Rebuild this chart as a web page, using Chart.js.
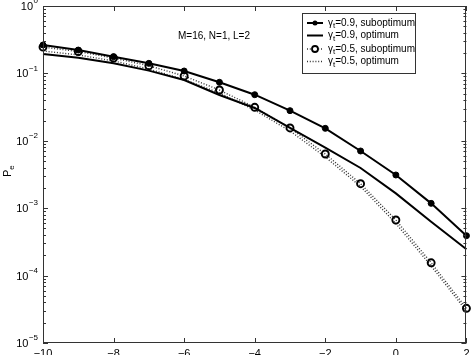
<!DOCTYPE html>
<html>
<head>
<meta charset="utf-8">
<script src="https://cdn.jsdelivr.net/npm/chart.js@4.4.1/dist/chart.umd.min.js"></script>
<style>
html,body{margin:0;padding:0;background:#fff;}
canvas{display:block;}
</style>
</head>
<body>
<canvas id="c" width="474" height="355"></canvas>
<script>
// ---- data ----
const snr = [-10, -9, -8, -7, -6, -5, -4, -3, -2, -1, 0, 1, 2];
const subopt09 = [0.264, 0.222, 0.177, 0.141, 0.1085, 0.0738, 0.0483, 0.0280, 0.0153, 0.00706, 0.00311, 0.00118, 0.000391];
const opt09    = [0.194, 0.171, 0.141, 0.110, 0.0798, 0.0478, 0.0307, 0.0155, 0.00795, 0.00395, 0.00166, 0.000630, 0.000246];
const subopt05 = [0.246, 0.211, 0.169, 0.130, 0.0915, 0.0567, 0.0314, 0.0155, 0.00637, 0.00231, 0.000668, 0.000155, 0.0000327];
const opt05    = [0.215, 0.188, 0.153, 0.116, 0.0812, 0.0512, 0.0286, 0.0140, 0.00575, 0.00210, 0.000593, 0.000139, 0.0000298];
const seriesLabels = ['γ_t=0.9, suboptimum', 'γ_t=0.9, optimum', 'γ_t=0.5, suboptimum', 'γ_t=0.5, optimum'];
const xTickValues = [-10, -8, -6, -4, -2, 0, 2];
const yDecades = [-5, -4, -3, -2, -1, 0];
const annotationText = 'M=16, N=1, L=2';
const yTitle = ['P', 'e'];

const FONT = '"Liberation Sans", Arial, Helvetica, sans-serif';
const toPts = arr => snr.map((x, i) => ({x: x, y: arr[i]}));

const legendSpecs = [
  {kind: 'filled'}, {kind: 'solid'}, {kind: 'open'}, {kind: 'dotted'}
];

function drawSubText(ctx, x, y, text, size) {
  const idx = text.indexOf('_');
  ctx.font = size + 'px ' + FONT;
  if (idx < 0) { ctx.fillText(text, x, y); return; }
  const pre = text.slice(0, idx);
  const sub = text.charAt(idx + 1);
  const post = text.slice(idx + 2);
  ctx.fillText(pre, x, y);
  x += ctx.measureText(pre).width;
  ctx.font = Math.round(size * 0.75) + 'px ' + FONT;
  ctx.fillText(sub, x, y + 3);
  x += ctx.measureText(sub).width;
  ctx.font = size + 'px ' + FONT;
  ctx.fillText(post, x, y);
}

const decorPlugin = {
  id: 'decor',
  afterDatasetsDraw(chart) {
    const ctx = chart.ctx;
    const a = chart.chartArea;
    const xs = chart.scales.x, ys = chart.scales.y;
    ctx.save();
    // box
    ctx.strokeStyle = '#333';
    ctx.lineWidth = 1;
    ctx.strokeRect(Math.round(a.left) + 0.5, Math.round(a.top) + 0.5,
                   Math.round(a.right - a.left) - 1, Math.round(a.bottom - a.top) - 1);
    // x ticks (inward, bottom and top)
    ctx.beginPath();
    xTickValues.forEach(v => {
      const px = Math.round(xs.getPixelForValue(v)) + 0.5;
      ctx.moveTo(px, a.bottom); ctx.lineTo(px, a.bottom - 5);
      ctx.moveTo(px, a.top); ctx.lineTo(px, a.top + 5);
    });
    // y ticks (major + minor, inward, left and right)
    yDecades.forEach(d => {
      for (let m = 1; m <= 9; m++) {
        if (d === 0 && m > 1) break;
        const v = m * Math.pow(10, d);
        const py = Math.round(ys.getPixelForValue(v)) + 0.5;
        const len = m === 1 ? 5 : 3;
        ctx.moveTo(a.left, py); ctx.lineTo(a.left + len, py);
        ctx.moveTo(a.right, py); ctx.lineTo(a.right - len, py);
      }
    });
    ctx.stroke();

    // y tick labels 10^d
    ctx.fillStyle = '#000';
    yDecades.forEach(d => {
      const py = ys.getPixelForValue(Math.pow(10, d));
      const expText = d < 0 ? '\u2212' + Math.abs(d) : String(d);
      ctx.font = '8px ' + FONT;
      const ew = ctx.measureText(expText).width;
      const ex = 38 - ew;
      ctx.textBaseline = 'middle';
      ctx.textAlign = 'left';
      ctx.fillText(expText, ex, py - 5);
      ctx.font = '11px ' + FONT;
      ctx.textAlign = 'right';
      ctx.fillText('10', ex - 0.5, py + 1);
    });

    // y axis title P_e (rotated)
    ctx.save();
    ctx.translate(11, 177);
    ctx.rotate(-Math.PI / 2);
    ctx.textAlign = 'left';
    ctx.textBaseline = 'alphabetic';
    ctx.font = '11px ' + FONT;
    ctx.fillText(yTitle[0], 0, 0);
    const pw = ctx.measureText(yTitle[0]).width;
    ctx.font = '8px ' + FONT;
    ctx.fillText(yTitle[1], pw, 3);
    ctx.restore();

    // annotation
    ctx.font = '10px ' + FONT;
    ctx.textAlign = 'left';
    ctx.textBaseline = 'middle';
    ctx.fillText(annotationText, 178, 36);

    // legend
    const lx = 302, ly = 13, lw = 113, lh = 60;
    ctx.fillStyle = '#fff';
    ctx.fillRect(lx, ly, lw, lh);
    ctx.strokeStyle = '#333';
    ctx.lineWidth = 1;
    ctx.strokeRect(lx + 0.5, ly + 0.5, lw, lh);
    const rowY = [23, 35.5, 49, 61.5];
    chart.data.datasets.forEach((ds, i) => {
      const y = rowY[i];
      const spec = legendSpecs[i];
      ctx.save();
      ctx.strokeStyle = ds.borderColor;
      ctx.lineWidth = ds.borderWidth;
      ctx.setLineDash(ds.borderDash || []);
      ctx.beginPath();
      ctx.moveTo(307, y); ctx.lineTo(323, y);
      ctx.stroke();
      ctx.setLineDash([]);
      if (spec.kind === 'filled') {
        ctx.fillStyle = '#000';
        ctx.beginPath(); ctx.arc(315, y, 2.5, 0, Math.PI * 2); ctx.fill();
      } else if (spec.kind === 'open') {
        ctx.fillStyle = '#fff';
        ctx.strokeStyle = '#000';
        ctx.lineWidth = 1.8;
        ctx.beginPath(); ctx.arc(315, y, 3, 0, Math.PI * 2); ctx.fill(); ctx.stroke();
      }
      ctx.restore();
      ctx.fillStyle = '#000';
      ctx.textAlign = 'left';
      ctx.textBaseline = 'middle';
      drawSubText(ctx, 328, y, ds.label, 10);
    });
    ctx.restore();
  }
};

new Chart(document.getElementById('c'), {
  type: 'line',
  data: {
    datasets: [
      {label: seriesLabels[0], data: toPts(subopt09), borderColor: '#000', borderWidth: 2,
       pointRadius: 3, pointBackgroundColor: '#000', pointBorderColor: '#000', pointBorderWidth: 1, clip: false},
      {label: seriesLabels[1], data: toPts(opt09), borderColor: '#000', borderWidth: 2,
       pointRadius: 0, clip: false},
      {label: seriesLabels[2], data: toPts(subopt05), borderColor: '#333', borderWidth: 1.4, borderDash: [1, 1.8],
       pointRadius: 3.5, pointBackgroundColor: 'rgba(0,0,0,0)', pointBorderColor: '#000', pointBorderWidth: 1.9, clip: false},
      {label: seriesLabels[3], data: toPts(opt05), borderColor: '#333', borderWidth: 1.4, borderDash: [1, 1.8],
       pointRadius: 0, clip: false}
    ]
  },
  options: {
    responsive: false,
    animation: false,
    devicePixelRatio: 1,
    layout: {padding: {top: 6, right: 4, left: 0, bottom: 0}},
    elements: {line: {tension: 0}},
    plugins: {legend: {display: false}, tooltip: {enabled: false}},
    scales: {
      x: {
        type: 'linear', min: -10, max: 2,
        grid: {display: false, drawTicks: false},
        border: {display: false},
        afterBuildTicks: s => { s.ticks = xTickValues.map(v => ({value: v})); },
        afterFit: s => { s.height = 12; },
        ticks: {
          autoSkip: false, maxRotation: 0, padding: 4.5, color: '#000',
          font: {family: FONT, size: 11},
          callback: v => v < 0 ? '\u2212' + Math.abs(v) : String(v)
        }
      },
      y: {
        type: 'logarithmic', min: 1e-5, max: 1,
        grid: {display: false, drawTicks: false},
        border: {display: false},
        ticks: {display: false},
        afterFit: s => { s.width = 43; }
      }
    }
  },
  plugins: [decorPlugin]
});
</script>
</body>
</html>
